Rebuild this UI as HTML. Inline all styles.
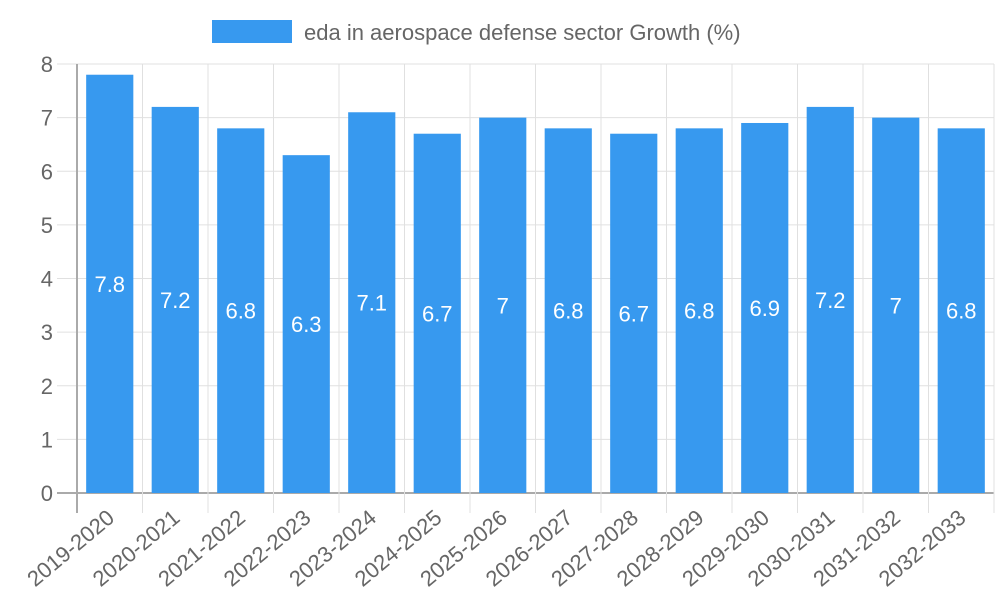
<!DOCTYPE html>
<html><head><meta charset="utf-8"><style>
body{margin:0;background:#fff;}
svg{display:block;font-family:"Liberation Sans",sans-serif;}
</style></head><body>
<svg id="chart" width="1000" height="600" xmlns="http://www.w3.org/2000/svg">
<g id="grid"></g>
<g id="bars"></g>
<g id="axes"></g>
<g>
<rect x="212" y="20" width="80" height="23" fill="#3799ef"/>
<text x="304" y="40" font-size="22" fill="#666">eda in aerospace defense sector Growth (%)</text>
</g>
</svg>
<script>
const categories=["2019-2020","2020-2021","2021-2022","2022-2023","2023-2024","2024-2025","2025-2026","2026-2027","2027-2028","2028-2029","2029-2030","2030-2031","2031-2032","2032-2033"];
const values=[7.8,7.2,6.8,6.3,7.1,6.7,7,6.8,6.7,6.8,6.9,7.2,7,6.8];
const yTicks=[0,1,2,3,4,5,6,7,8];
const NS="http://www.w3.org/2000/svg";
const L=77,R=994,T=64,B=493,yMax=8;
const cw=(R-L)/categories.length;
const y=v=>B-(v/yMax)*(B-T);
const x=i=>L+cw*i;
function mk(tag,attrs,parent){const e=document.createElementNS(NS,tag);for(const k in attrs)e.setAttribute(k,attrs[k]);parent.appendChild(e);return e;}
const grid=document.getElementById('grid'),bars=document.getElementById('bars'),axes=document.getElementById('axes');
yTicks.forEach(t=>{
 const l=mk('line',{x1:57,x2:R,y1:y(t),y2:y(t),stroke:t===0?'#aaa':'#e0e0e0','stroke-width':t===0?2:1},grid);
 
 
 const tx=mk('text',{x:53,y:y(t)+8,'text-anchor':'end','font-size':22,fill:'#666'},axes);
 tx.textContent=t;
 
 
});
for(let i=0;i<=categories.length;i++){
 const l=mk('line',{x1:x(i),x2:x(i),y1:T,y2:513,stroke:i===0?'#aaa':'#e0e0e0','stroke-width':i===0?2:1},grid);
 
 
}
categories.forEach((c,i)=>{
 const bw=cw*0.72,cx=x(i)+cw/2;
 const r=mk('rect',{x:cx-bw/2,y:y(values[i]),width:bw,height:B-y(values[i]),fill:'#3799ef'},bars);
 
 
 const vt=mk('text',{x:cx,y:(y(values[i])+B)/2+8,'text-anchor':'middle','font-size':22,fill:'#fff'},bars);
 vt.textContent=values[i];
 
 
 const lt=mk('text',{x:0,y:0,'text-anchor':'end','font-size':22,fill:'#666',transform:`translate(${cx+6},${520}) rotate(-40)`},axes);
 lt.textContent=c;
 
 
});
</script>
</body></html>
